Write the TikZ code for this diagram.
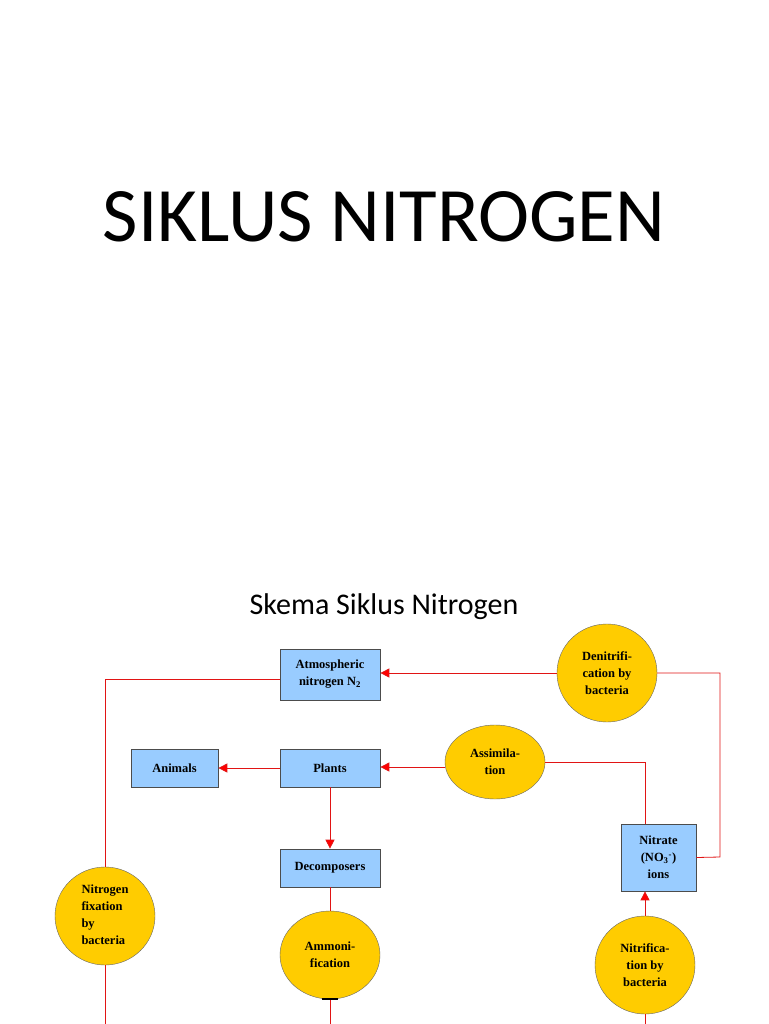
\documentclass[tikz,border=0pt]{standalone}
\usepackage{fontspec}
\setmainfont{Liberation Serif}
\newfontfamily\calib{Carlito}
\usetikzlibrary{arrows.meta,shapes.geometric}
\definecolor{boxblue}{RGB}{153,204,255}
\definecolor{ovalyel}{RGB}{255,204,0}
\definecolor{linered}{RGB}{225,20,20}
\begin{document}
\begin{tikzpicture}[x=1pt,y=-1pt,
 box/.style={draw=black!70,fill=boxblue,line width=0.7pt,inner sep=0pt,align=center,font=\bfseries\fontsize{12.5}{17}\selectfont},
 oval/.style={draw=black!60,fill=ovalyel,ellipse,inner sep=0pt,align=center,font=\bfseries\fontsize{12.5}{17}\selectfont},
 conn/.style={draw=linered,line width=0.8pt},
 arr/.style={conn,-{Triangle[length=9pt,width=9pt,fill=red]}}]
\useasboundingbox[fill=white] (0,0) rectangle (768,1024);
\node[font=\calib\fontsize{77}{90}\selectfont] (title) at (384,217) {SIKLUS NITROGEN};
\node[font=\calib\fontsize{30}{36}\selectfont] (sub) at (384,607) {Skema Siklus Nitrogen};
\node[box,minimum width=100,minimum height=51] (atm) at (330,674.5) {Atmospheric\\nitrogen N\textsubscript{2}};
\node[box,minimum width=87,minimum height=38] (ani) at (174.5,768) {Animals};
\node[box,minimum width=100,minimum height=38] (pla) at (330,768) {Plants};
\node[box,minimum width=100,minimum height=38] (dec) at (330,868) {Decomposers};
\node[box,minimum width=75,minimum height=67] (nit) at (658.5,857.5) {Nitrate\\(NO\textsubscript{3}\textsuperscript{-})\\ions};
\node[oval,minimum width=100,minimum height=98] (den) at (607,673) {Denitrifi-\\cation by\\bacteria};
\node[oval,minimum width=100,minimum height=74] (asm) at (495,762) {Assimila-\\tion};
\node[oval,minimum width=100,minimum height=98] (fix) at (105,916) {\begin{tabular}{@{}l@{}}Nitrogen\\fixation\\by\\bacteria\end{tabular}};
\node[oval,minimum width=100,minimum height=88] (amm) at (330,955) {Ammoni-\\fication};
\node[oval,minimum width=100,minimum height=98] (ntf) at (645,965) {Nitrifica-\\tion by\\bacteria};
\coordinate (e1) at (105,1024);
\coordinate (e2) at (330,1024);
\coordinate (e3) at (645,1024);
\draw[conn] (atm.west |- 0,679) -| (fix.north);
\draw[conn] (fix.south) -- (e1);
\draw[arr] (den.west) -- (atm.east |- den.west);
\draw[conn] (den.east) -| (720,857) -- (nit.east);
\draw[arr] (asm.west |- 0,767) -- (pla.east |- 0,767);
\draw[conn] (asm.east) -| (nit.north -| 645,0);
\draw[arr] (pla.west) -- (ani.east);
\draw[arr] (pla.south) -- (dec.north);
\draw[conn] (dec.south) -- (amm.north);
\draw[conn] (amm.south) -- (e2);
\draw[line width=1.5pt] (322,999) -- (338,999);
\draw[arr] (ntf.north) -- (nit.south -| ntf.north);
\draw[conn] (ntf.south) -- (e3);
\end{tikzpicture}
\end{document}
